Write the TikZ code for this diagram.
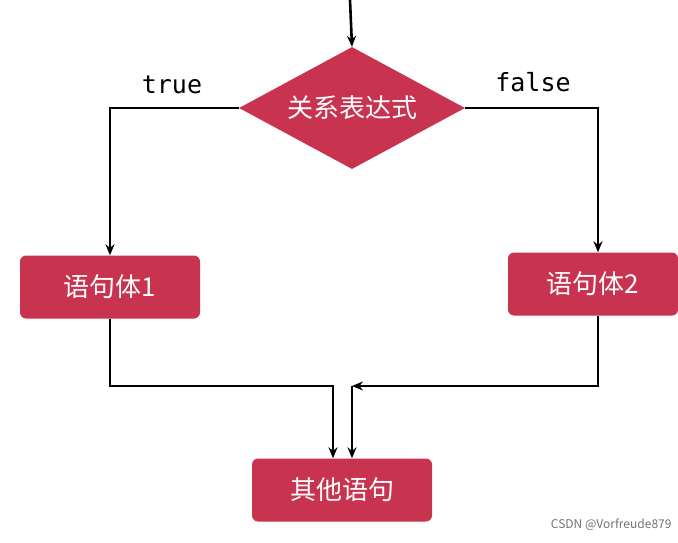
\documentclass[tikz,border=0pt]{standalone}
\usepackage{fontspec}
\setmainfont{Noto Sans CJK SC}
\setmonofont{DejaVu Sans Mono}
\usetikzlibrary{shapes.geometric,arrows.meta}
\definecolor{boxred}{RGB}{200,52,80}
\tikzset{>={Stealth[length=11pt,width=9pt]}}
\tikzset{
  stmt/.style={fill=boxred,rounded corners=6pt,text=white,font=\fontsize{26}{30}\selectfont,
    minimum height=63pt,inner sep=0pt},
  cond/.style={diamond,fill=boxred,text=white,font=\fontsize{26}{30}\selectfont,
    minimum width=226pt,minimum height=122pt,aspect=1.85,inner sep=0pt},
  flow/.style={draw=black,line width=2.6pt},
  lbl/.style={font=\ttfamily\fontsize{25}{28}\selectfont}
}
\begin{document}
\begin{tikzpicture}[x=1pt,y=1pt]
  \useasboundingbox (0,0) rectangle (678,-543);
  % nodes
  \node[cond] (rel) at (352,-108) {关系表达式};
  \node[stmt,minimum width=180pt] (body1) at (110,-287) {语句体1};
  \node[stmt,minimum width=170pt] (body2) at (593,-284) {语句体2};
  \node[stmt,minimum width=180pt] (rest) at (342,-490) {其他语句};
  \coordinate (top) at (350,0);
  \coordinate (join1) at (333,-386);
  \coordinate (join2) at (352,-386);
  % connectors
  \draw[flow,->] (top) -- (rel.north);
  \draw[flow,->] (rel.west) -| (body1.north);
  \draw[flow,->] (rel.east) -| (body2.north -| 598,0);
  \draw[flow,->] (body1.south) |- (join1) -- (join1 |- rest.north);
  \draw[flow,->] (body2.south -| 598,0) |- (join2);
  \draw[flow,->] (join2) -- (join2 |- rest.north);
  % labels
  \node[lbl] (t) at (172,-85) {true};
  \node[lbl] (f) at (533,-82) {false};
  \node[font=\fontsize{12}{14}\selectfont,text=black!55,anchor=east] (wm) at (675,-525) {CSDN @Vorfreude879};
\end{tikzpicture}
\end{document}
